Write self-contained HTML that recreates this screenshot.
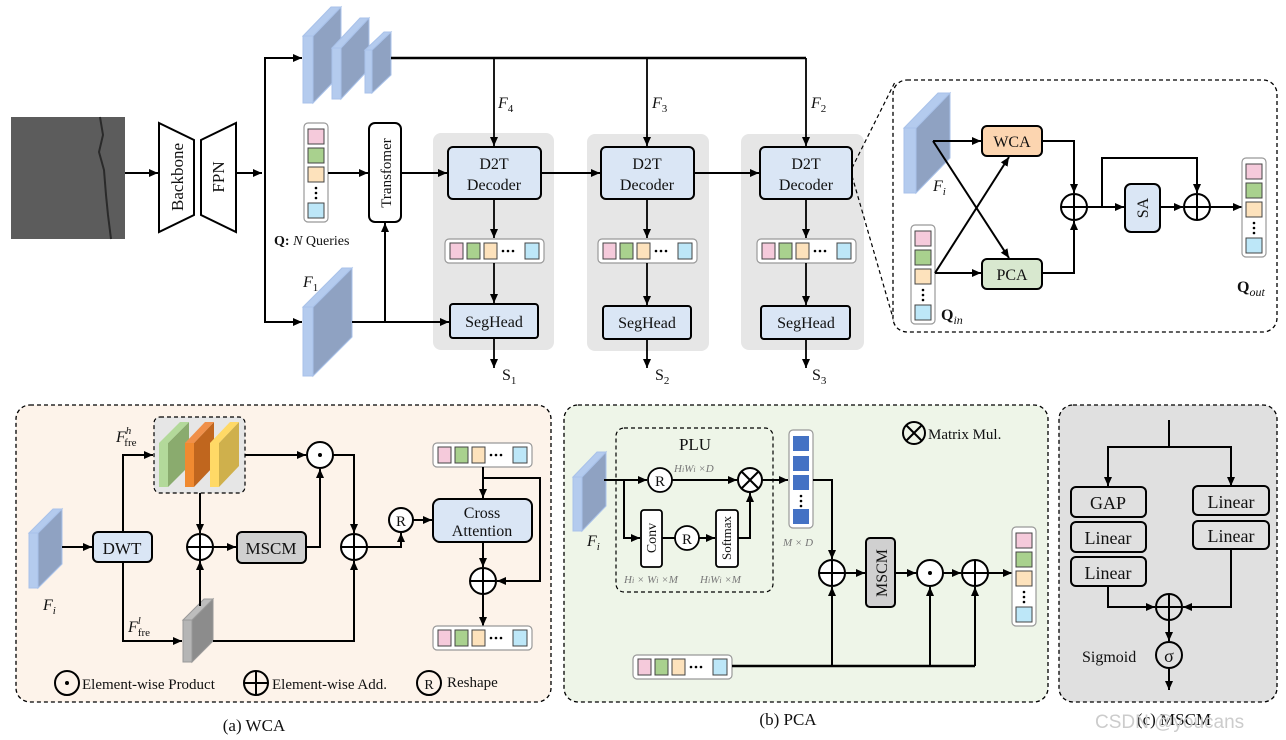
<!DOCTYPE html>
<html><head><meta charset="utf-8"><style>
html,body{margin:0;padding:0;background:#fff;}
svg{display:block;}
text{font-family:"Liberation Serif",serif;fill:#111;}
</style></head><body>
<svg width="1286" height="740" viewBox="0 0 1286 740" xmlns="http://www.w3.org/2000/svg">
<defs>
<marker id="ar" markerWidth="10" markerHeight="10" refX="9" refY="5" orient="auto" markerUnits="userSpaceOnUse">
<path d="M0,1 L9,5 L0,9 Z" fill="#000"/></marker>
<g id="qrow">
<rect x="0" y="0" width="99" height="24" rx="4" fill="#fff" stroke="#999" stroke-width="1.2"/>
<rect x="5" y="4" width="13" height="16" fill="#f5cadb" stroke="#444"/>
<rect x="22" y="4" width="13" height="16" fill="#a9d18e" stroke="#444"/>
<rect x="39" y="4" width="13" height="16" fill="#fde2bc" stroke="#444"/>
<circle cx="58" cy="12" r="1.3" fill="#000"/><circle cx="63" cy="12" r="1.3" fill="#000"/><circle cx="68" cy="12" r="1.3" fill="#000"/>
<rect x="80" y="4" width="14" height="16" fill="#bde7f8" stroke="#444"/>
</g>
<g id="qcol">
<rect x="0" y="0" width="24" height="99" rx="4" fill="#fff" stroke="#999" stroke-width="1.2"/>
<rect x="4" y="6" width="16" height="15" fill="#f5cadb" stroke="#444"/>
<rect x="4" y="25" width="16" height="15" fill="#a9d18e" stroke="#444"/>
<rect x="4" y="44" width="16" height="15" fill="#fde2bc" stroke="#444"/>
<circle cx="12" cy="65" r="1.3" fill="#000"/><circle cx="12" cy="70" r="1.3" fill="#000"/><circle cx="12" cy="75" r="1.3" fill="#000"/>
<rect x="4" y="80" width="16" height="15" fill="#bde7f8" stroke="#444"/>
</g>
</defs>

<!-- photo -->
<rect x="11" y="117" width="114" height="122" fill="#5c5c5c"/>
<path d="M100,117 L103,135 L99,152 L104,170 L106,195 L108,215 L111,239" stroke="#2a2a2a" stroke-width="2" fill="none"/>
<line x1="125" y1="173" x2="158" y2="173" stroke="#000" stroke-width="2" marker-end="url(#ar)"/>
<!-- backbone / FPN -->
<polygon points="159,123 194,140 194,215 159,232" fill="#fff" stroke="#000" stroke-width="2"/>
<polygon points="201,140 236,123 236,232 201,215" fill="#fff" stroke="#000" stroke-width="2"/>
<text transform="translate(183,177) rotate(-90)" text-anchor="middle" font-size="17">Backbone</text>
<text transform="translate(224,177) rotate(-90)" text-anchor="middle" font-size="17">FPN</text>
<line x1="236" y1="173" x2="262" y2="173" stroke="#000" stroke-width="2" marker-end="url(#ar)"/>
<polyline points="302,58 265,58 265,322 302,322" fill="none" stroke="#000" stroke-width="2"/>
<line x1="265" y1="58" x2="302" y2="58" stroke="#000" stroke-width="2" marker-end="url(#ar)"/>
<line x1="265" y1="322" x2="302" y2="322" stroke="#000" stroke-width="2" marker-end="url(#ar)"/>

<!-- top slabs -->
<g stroke="#a9c2ea" stroke-width="1">
<polygon points="313,36 341,7 341,74 313,103" fill="#8fa2c2"/>
<polygon points="303,36 331,7 341,7 313,36" fill="#b4cbee"/>
<rect x="303" y="36" width="10" height="67" fill="#b4cbee"/>
<polygon points="341,48 369,18 369,69 341,99" fill="#8fa2c2"/>
<polygon points="332,48 360,18 369,18 341,48" fill="#b4cbee"/>
<rect x="332" y="48" width="9" height="51" fill="#b4cbee"/>
<polygon points="372,50 391,32 391,75 372,93" fill="#8fa2c2"/>
<polygon points="365,50 384,32 391,32 372,50" fill="#b4cbee"/>
<rect x="365" y="50" width="7" height="43" fill="#b4cbee"/>
</g>
<line x1="391" y1="58" x2="806" y2="58" stroke="#000" stroke-width="2.5"/>

<!-- panels -->
<rect x="433" y="133" width="121" height="217" rx="8" fill="#e6e6e6"/>
<rect x="587" y="134" width="122" height="217" rx="8" fill="#e6e6e6"/>
<rect x="741" y="134" width="123" height="216" rx="8" fill="#e6e6e6"/>

<!-- F lines -->
<line x1="494" y1="58" x2="494" y2="146" stroke="#000" stroke-width="1.8" marker-end="url(#ar)"/>
<line x1="647" y1="58" x2="647" y2="146" stroke="#000" stroke-width="1.8" marker-end="url(#ar)"/>
<line x1="806" y1="58" x2="806" y2="146" stroke="#000" stroke-width="1.8" marker-end="url(#ar)"/>
<text x="498" y="108" font-size="16" font-style="italic">F<tspan font-size="11" dy="4" font-style="normal">4</tspan></text>
<text x="652" y="108" font-size="16" font-style="italic">F<tspan font-size="11" dy="4" font-style="normal">3</tspan></text>
<text x="811" y="108" font-size="16" font-style="italic">F<tspan font-size="11" dy="4" font-style="normal">2</tspan></text>

<!-- queries & transformer -->
<use href="#qcol" x="304" y="123"/>
<text x="274" y="245" font-size="14"><tspan font-weight="bold">Q:</tspan> <tspan font-style="italic">N</tspan> Queries</text>
<rect x="369" y="123" width="32" height="99" rx="6" fill="#fff" stroke="#000" stroke-width="2"/>
<text transform="translate(391,173) rotate(-90)" text-anchor="middle" font-size="15">Transfomer</text>
<line x1="328" y1="173" x2="368" y2="173" stroke="#000" stroke-width="2" marker-end="url(#ar)"/>
<line x1="401" y1="173" x2="447" y2="173" stroke="#000" stroke-width="2" marker-end="url(#ar)"/>
<line x1="541" y1="173" x2="600" y2="173" stroke="#000" stroke-width="2" marker-end="url(#ar)"/>
<line x1="694" y1="173" x2="759" y2="173" stroke="#000" stroke-width="2" marker-end="url(#ar)"/>

<!-- F1 slab -->
<g stroke="#a9c2ea" stroke-width="1">
<polygon points="313,307 352,268 352,337 313,376" fill="#8fa2c2"/>
<polygon points="303,307 342,268 352,268 313,307" fill="#b4cbee"/>
<rect x="303" y="307" width="10" height="69" fill="#b4cbee"/>
</g>
<text x="303" y="287" font-size="16" font-style="italic">F<tspan font-size="11" dy="4" font-style="normal">1</tspan></text>
<line x1="352" y1="322" x2="449" y2="322" stroke="#000" stroke-width="2" marker-end="url(#ar)"/>
<line x1="385" y1="322" x2="385" y2="223" stroke="#000" stroke-width="2" marker-end="url(#ar)"/>

<!-- decoder columns -->
<g font-size="16">
<rect x="448" y="147" width="93" height="52" rx="5" fill="#dae6f5" stroke="#000" stroke-width="2"/>
<text x="494" y="169" text-anchor="middle">D2T</text><text x="494" y="190" text-anchor="middle">Decoder</text>
<rect x="601" y="147" width="93" height="52" rx="5" fill="#dae6f5" stroke="#000" stroke-width="2"/>
<text x="647" y="169" text-anchor="middle">D2T</text><text x="647" y="190" text-anchor="middle">Decoder</text>
<rect x="760" y="147" width="92" height="52" rx="5" fill="#dae6f5" stroke="#000" stroke-width="2"/>
<text x="806" y="169" text-anchor="middle">D2T</text><text x="806" y="190" text-anchor="middle">Decoder</text>
<use href="#qrow" x="445" y="239"/><use href="#qrow" x="598" y="239"/><use href="#qrow" x="757" y="239"/>
<line x1="494" y1="199" x2="494" y2="238" stroke="#000" stroke-width="1.8" marker-end="url(#ar)"/>
<line x1="647" y1="199" x2="647" y2="238" stroke="#000" stroke-width="1.8" marker-end="url(#ar)"/>
<line x1="806" y1="199" x2="806" y2="238" stroke="#000" stroke-width="1.8" marker-end="url(#ar)"/>
<line x1="494" y1="263" x2="494" y2="303" stroke="#000" stroke-width="1.8" marker-end="url(#ar)"/>
<line x1="647" y1="263" x2="647" y2="305" stroke="#000" stroke-width="1.8" marker-end="url(#ar)"/>
<line x1="806" y1="263" x2="806" y2="305" stroke="#000" stroke-width="1.8" marker-end="url(#ar)"/>
<rect x="450" y="304" width="88" height="34" rx="3" fill="#dae6f5" stroke="#000" stroke-width="2"/>
<text x="494" y="327" text-anchor="middle">SegHead</text>
<rect x="603" y="306" width="88" height="33" rx="3" fill="#dae6f5" stroke="#000" stroke-width="2"/>
<text x="647" y="328" text-anchor="middle">SegHead</text>
<rect x="761" y="306" width="89" height="33" rx="3" fill="#dae6f5" stroke="#000" stroke-width="2"/>
<text x="806" y="328" text-anchor="middle">SegHead</text>
<line x1="494" y1="338" x2="494" y2="368" stroke="#000" stroke-width="1.8" marker-end="url(#ar)"/>
<line x1="647" y1="339" x2="647" y2="368" stroke="#000" stroke-width="1.8" marker-end="url(#ar)"/>
<line x1="806" y1="339" x2="806" y2="368" stroke="#000" stroke-width="1.8" marker-end="url(#ar)"/>
<text x="502" y="380">S<tspan font-size="11" dy="4">1</tspan></text>
<text x="655" y="380">S<tspan font-size="11" dy="4">2</tspan></text>
<text x="812" y="380">S<tspan font-size="11" dy="4">3</tspan></text>
</g>

<!-- zoom panel -->
<line x1="852" y1="168" x2="895" y2="82" stroke="#000" stroke-width="1.2" stroke-dasharray="4,3"/>
<line x1="852" y1="176" x2="895" y2="325" stroke="#000" stroke-width="1.2" stroke-dasharray="4,3"/>
<rect x="893" y="80" width="384" height="252" rx="14" fill="#fff" stroke="#000" stroke-width="1.3" stroke-dasharray="4,3"/>
<g stroke="#a9c2ea" stroke-width="1">
<polygon points="916,128 950,93 950,158 916,193" fill="#8fa2c2"/>
<polygon points="904,128 938,93 950,93 916,128" fill="#b4cbee"/>
<rect x="904" y="128" width="12" height="65" fill="#b4cbee"/>
</g>
<text x="933" y="191" font-size="16" font-style="italic">F<tspan font-size="11" dy="4">i</tspan></text>
<use href="#qcol" x="911" y="225"/>
<text x="941" y="320" font-size="16" font-weight="bold">Q<tspan font-size="12" dy="4" font-style="italic" font-weight="normal">in</tspan></text>
<rect x="982" y="126" width="60" height="30" rx="5" fill="#fcd5b0" stroke="#000" stroke-width="2"/>
<text x="1012" y="147" text-anchor="middle" font-size="16">WCA</text>
<rect x="982" y="259" width="60" height="30" rx="5" fill="#d8e8cf" stroke="#000" stroke-width="2"/>
<text x="1012" y="280" text-anchor="middle" font-size="16">PCA</text>
<line x1="933" y1="141" x2="981" y2="141" stroke="#000" stroke-width="2" marker-end="url(#ar)"/>
<line x1="933" y1="141" x2="1009" y2="258" stroke="#000" stroke-width="2" marker-end="url(#ar)"/>
<line x1="935" y1="273" x2="981" y2="273" stroke="#000" stroke-width="2" marker-end="url(#ar)"/>
<line x1="935" y1="273" x2="1009" y2="157" stroke="#000" stroke-width="2" marker-end="url(#ar)"/>
<polyline points="1042,141 1074,141 1074,193" fill="none" stroke="#000" stroke-width="2" marker-end="url(#ar)"/>
<polyline points="1042,273 1074,273 1074,221" fill="none" stroke="#000" stroke-width="2" marker-end="url(#ar)"/>
<circle cx="1074" cy="207" r="13" fill="#fff" stroke="#000" stroke-width="2"/>
<line x1="1061" y1="207" x2="1087" y2="207" stroke="#000" stroke-width="2"/><line x1="1074" y1="194" x2="1074" y2="220" stroke="#000" stroke-width="2"/>
<line x1="1087" y1="207" x2="1124" y2="207" stroke="#000" stroke-width="2" marker-end="url(#ar)"/>
<polyline points="1102,207 1102,158 1197,158 1197,193" fill="none" stroke="#000" stroke-width="2" marker-end="url(#ar)"/>
<rect x="1125" y="184" width="35" height="48" rx="6" fill="#dae6f5" stroke="#000" stroke-width="2"/>
<text transform="translate(1148,208) rotate(-90)" text-anchor="middle" font-size="16">SA</text>
<line x1="1160" y1="207" x2="1183" y2="207" stroke="#000" stroke-width="2" marker-end="url(#ar)"/>
<circle cx="1197" cy="207" r="13" fill="#fff" stroke="#000" stroke-width="2"/>
<line x1="1184" y1="207" x2="1210" y2="207" stroke="#000" stroke-width="2"/><line x1="1197" y1="194" x2="1197" y2="220" stroke="#000" stroke-width="2"/>
<line x1="1210" y1="207" x2="1242" y2="207" stroke="#000" stroke-width="2" marker-end="url(#ar)"/>
<use href="#qcol" x="1242" y="158"/>
<text x="1237" y="292" font-size="16" font-weight="bold">Q<tspan font-size="12" dy="4" font-style="italic" font-weight="normal">out</tspan></text>

<!-- (a) WCA -->
<rect x="16" y="405" width="535" height="297" rx="14" fill="#fdf3ea" stroke="#000" stroke-width="1.3" stroke-dasharray="4,3"/>
<g stroke="#a9c2ea" stroke-width="1">
<polygon points="38,533 62,509 62,564 38,588" fill="#8fa2c2"/>
<polygon points="29,533 53,509 62,509 38,533" fill="#b4cbee"/>
<rect x="29" y="533" width="9" height="55" fill="#b4cbee"/>
</g>
<text x="43" y="610" font-size="16" font-style="italic">F<tspan font-size="11" dy="4">i</tspan></text>
<line x1="62" y1="547" x2="92" y2="547" stroke="#000" stroke-width="2" marker-end="url(#ar)"/>
<rect x="93" y="532" width="59" height="30" rx="5" fill="#dae6f5" stroke="#000" stroke-width="2"/>
<text x="122" y="554" text-anchor="middle" font-size="17">DWT</text>
<polyline points="123,532 123,455 153,455" fill="none" stroke="#000" stroke-width="2" marker-end="url(#ar)"/>
<polyline points="123,562 123,641 182,641" fill="none" stroke="#000" stroke-width="2" marker-end="url(#ar)"/>
<text x="116" y="442" font-size="16" font-style="italic">F<tspan font-size="11" dy="-8" font-style="italic">h</tspan><tspan font-size="11" dx="-7" dy="12" font-style="normal">fre</tspan></text>
<text x="128" y="632" font-size="16" font-style="italic">F<tspan font-size="11" dy="-8">l</tspan><tspan font-size="11" dx="-3" dy="12" font-style="normal">fre</tspan></text>
<rect x="154" y="417" width="91" height="76" rx="6" fill="#e6e6e6" stroke="#000" stroke-width="1.2" stroke-dasharray="4,3"/>
<polygon points="168,443 189,422 189,466 168,487" fill="#8aab6e"/><polygon points="159,443 180,422 189,422 168,443" fill="#b3d99a"/><rect x="159" y="443" width="9" height="44" fill="#b3d99a"/>
<polygon points="194,443 214,422 214,466 194,487" fill="#c0661e"/><polygon points="185,443 205,422 214,422 194,443" fill="#f0904a"/><rect x="185" y="443" width="9" height="44" fill="#f08a30"/>
<polygon points="219,443 239,422 239,466 219,487" fill="#cfb04c"/><polygon points="210,443 230,422 239,422 219,443" fill="#ffd966"/><rect x="210" y="443" width="9" height="44" fill="#ffd966"/>
<line x1="245" y1="455" x2="306" y2="455" stroke="#000" stroke-width="2" marker-end="url(#ar)"/>
<circle cx="320" cy="455" r="13" fill="#fff" stroke="#000" stroke-width="2"/><circle cx="320" cy="455" r="2" fill="#000"/>
<polyline points="333,455 354,455 354,533" fill="none" stroke="#000" stroke-width="2" marker-end="url(#ar)"/>
<line x1="200" y1="493" x2="200" y2="533" stroke="#000" stroke-width="2" marker-end="url(#ar)"/>
<circle cx="200" cy="547" r="13" fill="#fff" stroke="#000" stroke-width="2"/>
<line x1="187" y1="547" x2="213" y2="547" stroke="#000" stroke-width="2"/><line x1="200" y1="534" x2="200" y2="560" stroke="#000" stroke-width="2"/>
<line x1="213" y1="547" x2="236" y2="547" stroke="#000" stroke-width="2" marker-end="url(#ar)"/>
<rect x="237" y="532" width="69" height="31" rx="5" fill="#d0d0d0" stroke="#000" stroke-width="2"/>
<text x="271" y="554" text-anchor="middle" font-size="17">MSCM</text>
<polyline points="306,547 320,547 320,469" fill="none" stroke="#000" stroke-width="2" marker-end="url(#ar)"/>
<g stroke="#999" stroke-width="1">
<polygon points="192,620 213,599 213,641 192,662" fill="#8c8c8c"/><polygon points="183,620 204,599 213,599 192,620" fill="#bdbdbd"/><rect x="183" y="620" width="9" height="42" fill="#b5b5b5"/>
</g>
<line x1="200" y1="606" x2="200" y2="561" stroke="#000" stroke-width="2" marker-end="url(#ar)"/>
<polyline points="213,641 354,641 354,561" fill="none" stroke="#000" stroke-width="2" marker-end="url(#ar)"/>
<circle cx="354" cy="547" r="13" fill="#fff" stroke="#000" stroke-width="2"/>
<line x1="341" y1="547" x2="367" y2="547" stroke="#000" stroke-width="2"/><line x1="354" y1="534" x2="354" y2="560" stroke="#000" stroke-width="2"/>
<polyline points="367,547 401,547 401,533" fill="none" stroke="#000" stroke-width="2" marker-end="url(#ar)"/>
<circle cx="401" cy="520" r="12" fill="#fff" stroke="#000" stroke-width="2"/>
<text x="401" y="526" text-anchor="middle" font-size="15">R</text>
<line x1="413" y1="520" x2="432" y2="520" stroke="#000" stroke-width="2" marker-end="url(#ar)"/>
<use href="#qrow" x="433" y="443"/>
<line x1="483" y1="467" x2="483" y2="498" stroke="#000" stroke-width="2" marker-end="url(#ar)"/>
<polyline points="483,478 540,478 540,581 497,581" fill="none" stroke="#000" stroke-width="2" marker-end="url(#ar)"/>
<rect x="433" y="499" width="99" height="43" rx="7" fill="#dae6f5" stroke="#000" stroke-width="2"/>
<text x="482" y="518" text-anchor="middle" font-size="16">Cross</text><text x="482" y="536" text-anchor="middle" font-size="16">Attention</text>
<line x1="483" y1="542" x2="483" y2="567" stroke="#000" stroke-width="2" marker-end="url(#ar)"/>
<circle cx="483" cy="581" r="13" fill="#fff" stroke="#000" stroke-width="2"/>
<line x1="470" y1="581" x2="496" y2="581" stroke="#000" stroke-width="2"/><line x1="483" y1="568" x2="483" y2="594" stroke="#000" stroke-width="2"/>
<line x1="483" y1="594" x2="483" y2="626" stroke="#000" stroke-width="2" marker-end="url(#ar)"/>
<use href="#qrow" x="433" y="626"/>
<circle cx="67" cy="683" r="12" fill="none" stroke="#000" stroke-width="2"/><circle cx="67" cy="683" r="2" fill="#000"/>
<text x="82" y="689" font-size="15">Element-wise Product</text>
<circle cx="256" cy="683" r="12" fill="none" stroke="#000" stroke-width="2"/>
<line x1="244" y1="683" x2="268" y2="683" stroke="#000" stroke-width="2"/><line x1="256" y1="671" x2="256" y2="695" stroke="#000" stroke-width="2"/>
<text x="272" y="689" font-size="15">Element-wise Add.</text>
<circle cx="429" cy="683" r="12" fill="none" stroke="#000" stroke-width="2"/>
<text x="429" y="689" text-anchor="middle" font-size="14">R</text>
<text x="447" y="687" font-size="15">Reshape</text>
<text x="254" y="731" text-anchor="middle" font-size="17">(a) WCA</text>

<!-- (b) PCA -->
<rect x="564" y="405" width="484" height="297" rx="14" fill="#eef5e8" stroke="#000" stroke-width="1.3" stroke-dasharray="4,3"/>
<rect x="616" y="428" width="157" height="164" rx="8" fill="none" stroke="#000" stroke-width="1.2" stroke-dasharray="4,3"/>
<text x="695" y="450" text-anchor="middle" font-size="17">PLU</text>
<g stroke="#a9c2ea" stroke-width="1">
<polygon points="582,477 606,452 606,506 582,531" fill="#8fa2c2"/>
<polygon points="573,477 597,452 606,452 582,477" fill="#b4cbee"/>
<rect x="573" y="477" width="9" height="54" fill="#b4cbee"/>
</g>
<text x="587" y="546" font-size="16" font-style="italic">F<tspan font-size="11" dy="4">i</tspan></text>
<line x1="604" y1="480" x2="647" y2="480" stroke="#000" stroke-width="2" marker-end="url(#ar)"/>
<circle cx="660" cy="480" r="12" fill="#fff" stroke="#000" stroke-width="1.8"/><text x="660" y="486" text-anchor="middle" font-size="15">R</text>
<text x="674" y="472" font-size="11" font-style="italic" fill="#777" style="fill:#777">H<tspan font-size="8">i</tspan>W<tspan font-size="8">i</tspan> ×D</text>
<line x1="672" y1="480" x2="737" y2="480" stroke="#000" stroke-width="2" marker-end="url(#ar)"/>
<circle cx="750" cy="480" r="12" fill="#fff" stroke="#000" stroke-width="2"/>
<line x1="742" y1="472" x2="758" y2="488" stroke="#000" stroke-width="2"/><line x1="758" y1="472" x2="742" y2="488" stroke="#000" stroke-width="2"/>
<line x1="762" y1="480" x2="788" y2="480" stroke="#000" stroke-width="2" marker-end="url(#ar)"/>
<polyline points="624,480 624,538 640,538" fill="none" stroke="#000" stroke-width="2" marker-end="url(#ar)"/>
<rect x="641" y="510" width="21" height="57" rx="3" fill="#fff" stroke="#000" stroke-width="1.8"/>
<text transform="translate(656,538) rotate(-90)" text-anchor="middle" font-size="14">Conv</text>
<line x1="662" y1="538" x2="675" y2="538" stroke="#000" stroke-width="2"/>
<circle cx="687" cy="538" r="12" fill="#fff" stroke="#000" stroke-width="1.8"/><text x="687" y="544" text-anchor="middle" font-size="15">R</text>
<line x1="699" y1="538" x2="715" y2="538" stroke="#000" stroke-width="2" marker-end="url(#ar)"/>
<rect x="716" y="510" width="22" height="57" rx="3" fill="#fff" stroke="#000" stroke-width="1.8"/>
<text transform="translate(731,538) rotate(-90)" text-anchor="middle" font-size="13">Softmax</text>
<polyline points="738,538 750,538 750,493" fill="none" stroke="#000" stroke-width="2" marker-end="url(#ar)"/>
<text x="624" y="583" font-size="11" font-style="italic" style="fill:#777">H<tspan font-size="8">i</tspan> × W<tspan font-size="8">i</tspan> ×M</text>
<text x="700" y="583" font-size="11" font-style="italic" style="fill:#777">H<tspan font-size="8">i</tspan>W<tspan font-size="8">i</tspan> ×M</text>
<rect x="789" y="430" width="24" height="98" rx="4" fill="#fff" stroke="#999" stroke-width="1.2"/>
<rect x="793" y="436" width="16" height="15" fill="#4472c4"/><rect x="793" y="456" width="16" height="15" fill="#4472c4"/><rect x="793" y="475" width="16" height="15" fill="#4472c4"/>
<circle cx="801" cy="496" r="1.3" fill="#000"/><circle cx="801" cy="501" r="1.3" fill="#000"/><circle cx="801" cy="506" r="1.3" fill="#000"/>
<rect x="793" y="509" width="16" height="15" fill="#4472c4"/>
<text x="783" y="546" font-size="11" font-style="italic" style="fill:#777">M × D</text>
<polyline points="813,480 832,480 832,559" fill="none" stroke="#000" stroke-width="2" marker-end="url(#ar)"/>
<circle cx="832" cy="573" r="13" fill="#fff" stroke="#000" stroke-width="2"/>
<line x1="819" y1="573" x2="845" y2="573" stroke="#000" stroke-width="2"/><line x1="832" y1="560" x2="832" y2="586" stroke="#000" stroke-width="2"/>
<line x1="845" y1="573" x2="865" y2="573" stroke="#000" stroke-width="2" marker-end="url(#ar)"/>
<rect x="866" y="538" width="29" height="69" rx="4" fill="#d0d0d0" stroke="#000" stroke-width="2"/>
<text transform="translate(887,573) rotate(-90)" text-anchor="middle" font-size="16">MSCM</text>
<line x1="895" y1="573" x2="916" y2="573" stroke="#000" stroke-width="2" marker-end="url(#ar)"/>
<circle cx="930" cy="573" r="13" fill="#fff" stroke="#000" stroke-width="2"/><circle cx="930" cy="573" r="2" fill="#000"/>
<line x1="943" y1="573" x2="961" y2="573" stroke="#000" stroke-width="2" marker-end="url(#ar)"/>
<circle cx="975" cy="573" r="13" fill="#fff" stroke="#000" stroke-width="2"/>
<line x1="962" y1="573" x2="988" y2="573" stroke="#000" stroke-width="2"/><line x1="975" y1="560" x2="975" y2="586" stroke="#000" stroke-width="2"/>
<line x1="988" y1="573" x2="1012" y2="573" stroke="#000" stroke-width="2" marker-end="url(#ar)"/>
<use href="#qcol" x="1012" y="527"/>
<use href="#qrow" x="633" y="655"/>
<polyline points="732,666 975,666" fill="none" stroke="#000" stroke-width="2.5"/>
<line x1="832" y1="666" x2="832" y2="587" stroke="#000" stroke-width="2" marker-end="url(#ar)"/>
<line x1="930" y1="666" x2="930" y2="587" stroke="#000" stroke-width="2" marker-end="url(#ar)"/>
<line x1="975" y1="666" x2="975" y2="587" stroke="#000" stroke-width="2" marker-end="url(#ar)"/>
<circle cx="914" cy="433" r="11" fill="none" stroke="#000" stroke-width="2"/>
<line x1="906" y1="425" x2="922" y2="441" stroke="#000" stroke-width="2"/><line x1="922" y1="425" x2="906" y2="441" stroke="#000" stroke-width="2"/>
<text x="928" y="439" font-size="15">Matrix Mul.</text>
<text x="788" y="725" text-anchor="middle" font-size="17">(b) PCA</text>

<!-- (c) MSCM -->
<rect x="1059" y="405" width="218" height="297" rx="14" fill="#e0e0e0" stroke="#000" stroke-width="1.3" stroke-dasharray="4,3"/>
<line x1="1169" y1="420" x2="1169" y2="447" stroke="#000" stroke-width="2"/>
<polyline points="1108,486 1108,447 1231,447 1231,486" fill="none" stroke="#000" stroke-width="2"/>
<line x1="1108" y1="470" x2="1108" y2="486" stroke="#000" stroke-width="2" marker-end="url(#ar)"/>
<line x1="1231" y1="470" x2="1231" y2="486" stroke="#000" stroke-width="2" marker-end="url(#ar)"/>
<g font-size="18">
<rect x="1071" y="487" width="75" height="30" rx="5" fill="#e0e0e0" stroke="#000" stroke-width="2"/><text x="1108" y="509" text-anchor="middle">GAP</text>
<rect x="1071" y="522" width="75" height="30" rx="5" fill="#e0e0e0" stroke="#000" stroke-width="2"/><text x="1108" y="544" text-anchor="middle">Linear</text>
<rect x="1071" y="557" width="75" height="29" rx="5" fill="#e0e0e0" stroke="#000" stroke-width="2"/><text x="1108" y="579" text-anchor="middle">Linear</text>
<rect x="1193" y="486" width="76" height="29" rx="5" fill="#e0e0e0" stroke="#000" stroke-width="2"/><text x="1231" y="508" text-anchor="middle">Linear</text>
<rect x="1193" y="521" width="76" height="28" rx="5" fill="#e0e0e0" stroke="#000" stroke-width="2"/><text x="1231" y="542" text-anchor="middle">Linear</text>
</g>
<polyline points="1108,586 1108,607 1155,607" fill="none" stroke="#000" stroke-width="2" marker-end="url(#ar)"/>
<polyline points="1231,549 1231,607 1183,607" fill="none" stroke="#000" stroke-width="2" marker-end="url(#ar)"/>
<circle cx="1169" cy="607" r="13" fill="#e0e0e0" stroke="#000" stroke-width="2"/>
<line x1="1156" y1="607" x2="1182" y2="607" stroke="#000" stroke-width="2"/><line x1="1169" y1="594" x2="1169" y2="620" stroke="#000" stroke-width="2"/>
<line x1="1169" y1="620" x2="1169" y2="641" stroke="#000" stroke-width="2" marker-end="url(#ar)"/>
<circle cx="1169" cy="655" r="13" fill="#e0e0e0" stroke="#000" stroke-width="2"/>
<text x="1169" y="662" text-anchor="middle" font-size="18">σ</text>
<text x="1082" y="662" font-size="16">Sigmoid</text>
<line x1="1169" y1="668" x2="1169" y2="690" stroke="#000" stroke-width="2" marker-end="url(#ar)"/>
<text x="1174" y="725" text-anchor="middle" font-size="17">(c) MSCM</text>
<text x="1095" y="728" font-size="19" font-family="Liberation Sans, sans-serif" style="fill:#ccc;font-family:'Liberation Sans',sans-serif">CSDN @youcans</text>
</svg>
</body></html>
